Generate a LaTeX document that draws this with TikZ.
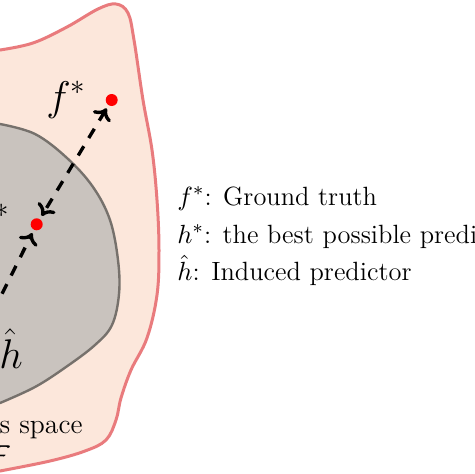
\documentclass[tikz,border=0pt]{standalone}
\usepackage{amsmath}
\usetikzlibrary{arrows.meta}
\definecolor{spacefill}{HTML}{FCE7DB}
\definecolor{spaceline}{HTML}{E97B7D}
\definecolor{classfill}{HTML}{C9C3BE}
\definecolor{classline}{HTML}{76716C}
\tikzset{
  outerblob/.style={fill=spacefill, draw=spaceline, line width=1.25pt},
  innerblob/.style={fill=classfill, draw=classline, line width=1pt},
  dot/.style={circle, fill=red, inner sep=0pt, minimum size=5pt},
  dasharrow/.style={line width=1.4pt, dash pattern=on 4.5pt off 4pt, shorten >=1.4pt, shorten <=1.4pt},
  lbl/.style={inner sep=0pt},
  legtext/.style={inner sep=0pt, anchor=base west, font=\fontsize{11}{13}\selectfont}
}

\begin{document}
\begin{tikzpicture}[x=0.4167pt, y=-0.4167pt, >={To[length=4.5pt,width=8.5pt]}]
			%%%%% START %%%%%
			
			\useasboundingbox (0, 0) rectangle (474, 474);
			\clip (0, 0) rectangle (474, 474);
			\fill[white] (0, 0) rectangle (474, 474);
			
			% hypothesis space
			\draw[outerblob] (-80, 60) -- plot[smooth, tension=0.6] coordinates {(0, 50) (33, 43) (67, 27) (98, 9) (116, 4) (128, 13) (134, 40) (143, 100) (152, 150) (157, 200) (159, 250) (157, 295) (147, 338) (131, 370) (121, 398) (116, 420) (106, 440) (85, 451) (50, 461) (0, 471)} -- (-80, 480) -- cycle;
			
			% achievable predictors
			\draw[innerblob] (-80, 120) -- plot[smooth, tension=0.6] coordinates {(0, 124) (35, 134) (67, 158) (93, 187) (110, 220) (118, 260) (119, 294) (112, 325) (95, 345) (66, 367) (35, 387) (0, 403)} -- (-80, 410) -- cycle;
			
			\node[dot] (fs) at (111.7, 100) {};
			\node[dot] (hs) at (36.7, 224.3) {};
			\coordinate (hh) at (-45, 388);
			
			\draw[dasharrow, <->] (fs) -- (hs);
			\draw[dasharrow, ->] (hh) -- (hs);
			
			\node[lbl, anchor=base west] (fslabel) at (46, 110) {\LARGE $f^*$};
			\node[lbl, anchor=base east] (hslabel) at (11, 233) {\LARGE $h^*$};
			\node[lbl, anchor=base west] (hhlabel) at (-1, 368) {\LARGE $\hat{h}$};
			
			\node[lbl, anchor=base east] (space) at (83, 433) {\fontsize{11.5}{13}\selectfont Hypothesis space};
			\node[lbl, anchor=base east] (spaceF) at (11, 465) {\fontsize{11.5}{13}\selectfont $\mathcal{F}$};
			
			% legend
			\node[legtext] (legf) at (177, 205) {$f^*$: Ground truth};
			\node[legtext] (legh) at (177, 243) {$h^*$: the best possible predictor};
			\node[legtext] (leghat) at (177, 280) {$\hat{h}$: Induced predictor};
			
			%%%%% END %%%%%
\end{tikzpicture}
\end{document}
